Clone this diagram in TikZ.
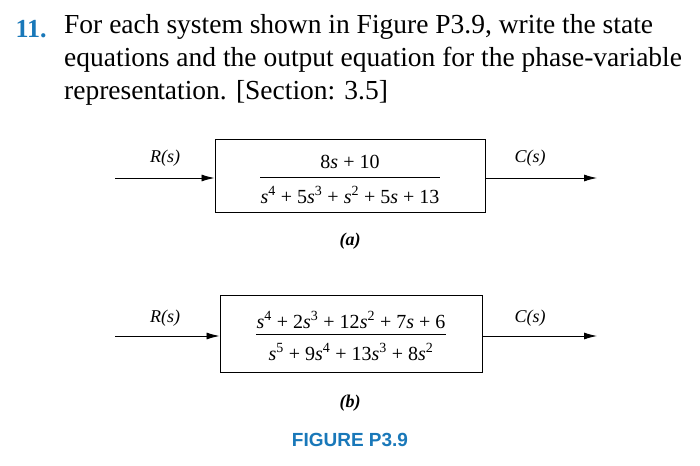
\documentclass[tikz,border=0pt]{standalone}
\usepackage{fontspec}
\setmainfont{Liberation Serif}
\newfontfamily\figfont{Liberation Sans}
\definecolor{hdblue}{RGB}{25,120,185}
\usetikzlibrary{arrows.meta}
\newcommand{\vs}{\textit{s}}
\newcommand{\pw}[1]{\textit{s}\textsuperscript{#1}}
\tikzset{x=1pt,y=-1pt,
 blk/.style={draw,line width=1pt,inner sep=0pt},
 sig/.style={line width=0.9pt,-{Latex[length=13pt,width=7pt]}},
 frac/.style={font=\fontsize{20}{22}\selectfont,inner sep=0pt},
 lab/.style={font=\fontsize{18}{20}\selectfont\itshape}}
\begin{document}
\begin{tikzpicture}
\useasboundingbox (0,0) rectangle (700,465);
\node[anchor=base west,font=\fontsize{26}{30}\selectfont\bfseries,text=hdblue] (num) at (12,38) {11.};
\node[anchor=north west,align=left,font=\fontsize{27.5}{33}\selectfont,inner sep=0pt] (txt) at (64,14) {For each system shown in Figure P3.9, write the state\\equations and the output equation for the phase-variable\\representation. [Section: 3.5]};
% (a)
\node[blk,minimum width=270pt,minimum height=72pt] (ba) at (350,176) {};
\node[frac] (na) at (350,162) {8\vs{} + 10};
\node[frac] (da) at (350,195) {\pw{4} + 5\pw{3} + \pw{2} + 5\vs{} + 13};
\draw[line width=0.8pt] (da.west|-0,177) -- (da.east|-0,177);
\coordinate (ina) at (115,178);
\coordinate (outa) at (597,178);
\draw[sig] (ina) -- (ba.west|-ina);
\draw[sig] (ba.east|-outa) -- (outa);
\node[lab] (ra) at (165,158) {R(s)};
\node[lab] (ca) at (530,158) {C(s)};
\node[font=\fontsize{18}{20}\selectfont\bfseries\itshape] (la) at (350,241) {(a)};
% (b)
\node[blk,minimum width=262pt,minimum height=77pt] (bb) at (351,334) {};
\node[frac] (nb) at (351,320) {\pw{4} + 2\pw{3} + 12\pw{2} + 7\vs{} + 6};
\node[frac] (db) at (351,352) {\pw{5} + 9\pw{4} + 13\pw{3} + 8\pw{2}};
\draw[line width=0.8pt] (nb.west|-0,334) -- (nb.east|-0,334);
\coordinate (inb) at (115,336);
\coordinate (outb) at (597,336);
\draw[sig] (inb) -- (bb.west|-inb);
\draw[sig] (bb.east|-outb) -- (outb);
\node[lab] (rb) at (165,318) {R(s)};
\node[lab] (cb) at (530,318) {C(s)};
\node[font=\fontsize{18}{20}\selectfont\bfseries\itshape] (lb) at (350,403) {(b)};
\node[font=\fontsize{19}{22}\selectfont\figfont\bfseries,text=hdblue] (fig) at (350,440) {FIGURE P3.9};
\end{tikzpicture}
\end{document}
